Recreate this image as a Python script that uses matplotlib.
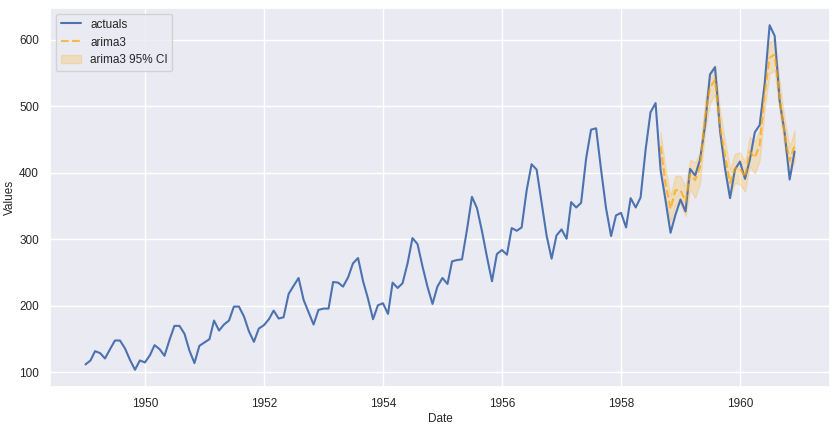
import pandas as pd
import matplotlib.pyplot as plt
import seaborn as sns

sns.set_theme(style="darkgrid")
plt.rcParams["font.family"] = ["Liberation Sans", "DejaVu Sans"]

# monthly passengers, 1949-01 .. 1960-12
actuals = [
    112, 118, 132, 129, 121, 135, 148, 148, 136, 119, 104, 118,
    115, 126, 141, 135, 125, 149, 170, 170, 158, 133, 114, 140,
    145, 150, 178, 163, 172, 178, 199, 199, 184, 162, 146, 166,
    171, 180, 193, 181, 183, 218, 230, 242, 209, 191, 172, 194,
    196, 196, 236, 235, 229, 243, 264, 272, 237, 211, 180, 201,
    204, 188, 235, 227, 234, 264, 302, 293, 259, 229, 203, 229,
    242, 233, 267, 269, 270, 315, 364, 347, 312, 274, 237, 278,
    284, 277, 317, 313, 318, 374, 413, 405, 355, 306, 271, 306,
    315, 301, 356, 348, 355, 422, 465, 467, 404, 347, 305, 336,
    340, 318, 362, 348, 363, 435, 491, 505, 404, 359, 310, 337,
    360, 342, 406, 396, 420, 472, 548, 559, 463, 407, 362, 405,
    417, 391, 419, 461, 472, 535, 622, 606, 508, 461, 390, 432,
]

# arima3 predictions, 1958-09 .. 1960-12
arima3 = [
    440, 385, 346, 374, 374, 357, 398, 389, 408, 485, 528, 540,
    470, 426, 385, 407, 407, 394, 432, 423, 442, 520, 573, 578,
    513, 459, 418, 441,
]
ci_lower = [
    419, 363, 326, 352, 353, 335, 376, 362, 385, 463, 505, 518,
    447, 404, 364, 385, 383, 372, 410, 399, 419, 497, 549, 554,
    490, 437, 397, 418,
]
ci_upper = [
    461, 407, 366, 396, 395, 379, 420, 416, 431, 507, 551, 562,
    493, 448, 406, 429, 431, 416, 454, 447, 465, 543, 597, 602,
    536, 481, 439, 464,
]

dates = pd.date_range("1949-01-01", periods=len(actuals), freq="MS")
fc_dates = pd.date_range("1958-09-01", periods=len(arima3), freq="MS")

fig, ax = plt.subplots(figsize=(8.37, 4.28), dpi=100)
fig.subplots_adjust(left=50 / 837, right=830 / 837, top=1 - 8 / 428, bottom=1 - 387 / 428)

ax.plot(dates, actuals, color="#4c72b0", linewidth=1.5, label="actuals")
ax.plot(fc_dates, arima3, color="orange", linestyle="--", linewidth=1.5, alpha=0.7, label="arima3")
ax.fill_between(fc_dates, ci_lower, ci_upper, color="orange", alpha=0.2, label="arima3 95% CI")

ax.set_xlabel("Date", fontsize=8.5, labelpad=2)
ax.set_ylabel("Values", fontsize=8.5, labelpad=2)
ax.tick_params(labelsize=8.5, pad=2)
ax.legend(loc="upper left", fontsize=8.5, handlelength=1.7)

plt.savefig("out.png")
